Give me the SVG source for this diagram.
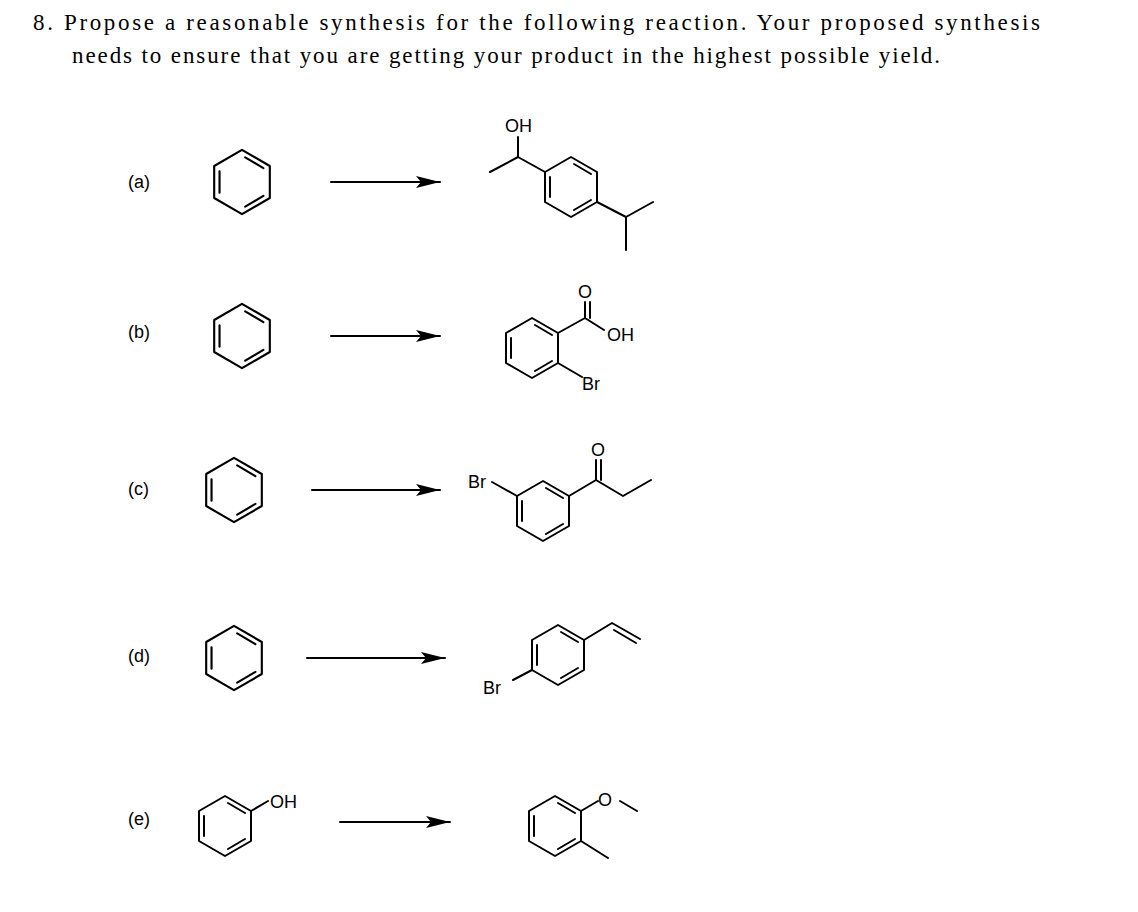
<svg xmlns="http://www.w3.org/2000/svg" xmlns:xlink="http://www.w3.org/1999/xlink" width="1138" height="912" viewBox="0 0 1138 912">
<style>
.b{stroke:#000;stroke-width:2;fill:none;stroke-linecap:round;stroke-linejoin:round}
.t{font-family:"Liberation Sans",Arial,sans-serif;font-size:18px;fill:#000}
.h{font-family:"Liberation Serif","Times New Roman",serif;font-size:23px;fill:#000}
.lb{font-family:"Liberation Sans",Arial,sans-serif;font-size:18px;fill:#000}
</style>
<defs>
<marker id="ah" viewBox="0 0 24 12" refX="24" refY="6" markerWidth="24" markerHeight="12" markerUnits="userSpaceOnUse" orient="auto"><path d="M0,0 L24,6 L0,12 L5,6 Z" fill="#000"/></marker>
<g id="ring">
<path class="b" d="M0,-30 L26,-15 L26,15 L0,30 L-26,15 L-26,-15 Z"/>
<path class="b" d="M-21,-10 L-21,10 M3,-23 L20,-13 M20,13 L3,23"/>
</g>
</defs>
<rect width="1138" height="912" fill="#fff"/>
<text class="h" x="33" y="30" textLength="1007">8. Propose a reasonable synthesis for the following reaction. Your proposed synthesis</text>
<text class="h" x="72" y="63" textLength="868">needs to ensure that you are getting your product in the highest possible yield.</text>

<text class="lb" x="128" y="188">(a)</text>
<text class="lb" x="128" y="338">(b)</text>
<text class="lb" x="128" y="495">(c)</text>
<text class="lb" x="128" y="662">(d)</text>
<text class="lb" x="128" y="825">(e)</text>

<g id="reactants">
<use xlink:href="#ring" href="#ring" transform="translate(242,182) scale(1.07)"/>
<use xlink:href="#ring" href="#ring" transform="translate(242,336) scale(1.07)"/>
<use xlink:href="#ring" href="#ring" transform="translate(234,490) scale(1.07)"/>
<use xlink:href="#ring" href="#ring" transform="translate(234,658) scale(1.07)"/>
<use xlink:href="#ring" href="#ring" transform="translate(225,826)"/>
<path class="b" d="M251,811 L268,801"/>
<text class="t" x="270" y="808">OH</text>
</g>

<g id="connectors">
<path class="b" d="M331,182 L440,182" marker-end="url(#ah)"/>
<path class="b" d="M331,336 L440,336" marker-end="url(#ah)"/>
<path class="b" d="M312,490 L440,490" marker-end="url(#ah)"/>
<path class="b" d="M307,658 L445,658" marker-end="url(#ah)"/>
<path class="b" d="M340,822 L450,822" marker-end="url(#ah)"/>
</g>

<g id="prod-a">
<use xlink:href="#ring" href="#ring" transform="translate(571,187)"/>
<path class="b" d="M545,172 L518,157 L490,172 M518,157 L518,137 M597,202 L626,217 L653,202 M626,217 L626,250"/>
<text class="t" x="505" y="132">OH</text>
</g>
<g id="prod-b">
<use xlink:href="#ring" href="#ring" transform="translate(532,348)"/>
<path class="b" d="M558,333 L585,318 L604,330 M585,318 L585,302 M590,318 L590,302 M558,363 L582,377"/>
<text class="t" x="578" y="298">O</text>
<text class="t" x="607" y="341">OH</text>
<text class="t" x="582" y="390">Br</text>
</g>
<g id="prod-c">
<use xlink:href="#ring" href="#ring" transform="translate(543,511)"/>
<path class="b" d="M517,496 L492,482 M569,496 L596,480 L623,496 L651,480 M596,480 L596,460 M601,480 L601,460"/>
<text class="t" x="468" y="488">Br</text>
<text class="t" x="591" y="456">O</text>
</g>
<g id="prod-d">
<use xlink:href="#ring" href="#ring" transform="translate(558,655)"/>
<path class="b" d="M584,640 L612,623 L640,639 M614,630 L636,643 M532,670 L513,680"/>
<text class="t" x="483" y="694">Br</text>
</g>
<g id="prod-e">
<use xlink:href="#ring" href="#ring" transform="translate(555,826)"/>
<path class="b" d="M581,811 L598,801 M620,801 L637,811 M581,841 L608,858"/>
<text class="t" x="598" y="806">O</text>
</g>
</svg>
